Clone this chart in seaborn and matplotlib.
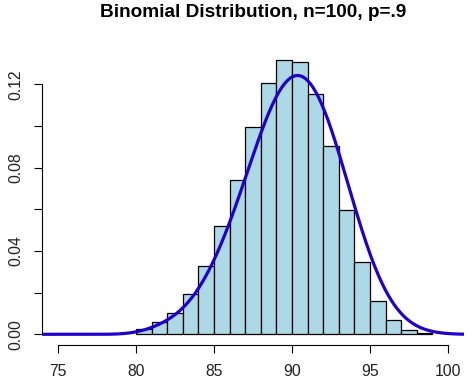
import matplotlib
matplotlib.use("Agg")
import matplotlib.pyplot as plt
import seaborn as sns
import numpy as np
import pandas as pd

# outcome k is counted in the bin (k-1, k], as R's hist does
outcomes = np.arange(81, 100)
density = [0.0027, 0.0059, 0.0101, 0.0192, 0.0326, 0.0518, 0.0739, 0.0994,
           0.1206, 0.1315, 0.1306, 0.1154, 0.0902, 0.0595, 0.0347, 0.0160,
           0.0069, 0.0021, 0.0006]
x_ticks = [75, 80, 85, 90, 95, 100]
y_ticks = [0.00, 0.02, 0.04, 0.06, 0.08, 0.10, 0.12]
y_labels = ["0.00", "", "0.04", "", "0.08", "", "0.12"]
title = "Binomial Distribution, n=100, p=.9"

df = pd.DataFrame({"outcome": outcomes, "mid": outcomes - 0.5, "density": density})

sns.set_style("white")
plt.rcParams["font.family"] = ["Liberation Sans", "DejaVu Sans"]

fig = plt.figure(figsize=(4.72, 3.87), dpi=100)
ax = fig.add_axes([0.0898, 0.1307, 0.8924, 0.7241])

sns.histplot(data=df, x="mid", weights="density", binwidth=1,
             binrange=(outcomes.min() - 1, outcomes.max()), stat="count",
             color="#ADD8E6", edgecolor="black", linewidth=0.9, alpha=1, ax=ax)
sns.kdeplot(data=df, x="outcome", weights="density", bw_adjust=0.58, cut=8,
            gridsize=500, color="#2200CC", linewidth=2.3, ax=ax)

ax.set_xlim(74, 101)
ax.set_ylim(-0.001, 0.1335)
ax.set_xlabel("")
ax.set_ylabel("")

for s in ["top", "right"]:
    ax.spines[s].set_visible(False)
ax.spines["left"].set_bounds(0, 0.12)
ax.spines["bottom"].set_bounds(75, 100)
ax.spines["bottom"].set_position(("outward", 6.5))
for s in ["left", "bottom"]:
    ax.spines[s].set_color("black")
    ax.spines[s].set_linewidth(0.8)

ax.set_xticks(x_ticks)
ax.set_yticks(y_ticks)
ax.set_yticklabels(y_labels, rotation=90, va="center")
ax.tick_params(axis="both", bottom=True, left=True, direction="out",
               length=6, width=0.8, colors="black", labelcolor="#222222",
               labelsize=11.3)
ax.tick_params(axis="x", pad=7)
ax.tick_params(axis="y", pad=8)

fig.text(0.0898 + 0.8924 / 2, 1 - 17 / 387, title, ha="center", va="baseline",
         fontsize=13.7, fontweight="bold", color="black")

fig.savefig("out.png", dpi=100)
